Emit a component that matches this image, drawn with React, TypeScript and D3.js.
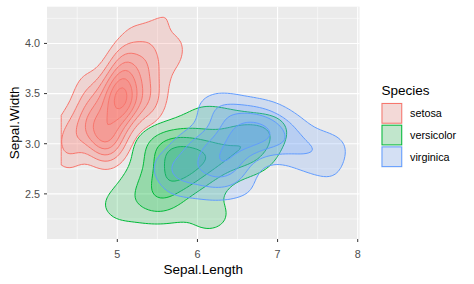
import React, { useMemo } from 'react';
import * as d3 from 'd3';

const species = ['setosa', 'versicolor', 'virginica'];
const speciesColors = ['#F8766D', '#00BA38', '#619CFF'];

const setosaLength = [5.1, 4.9, 4.7, 4.6, 5.0, 5.4, 4.6, 5.0, 4.4, 4.9, 5.4, 4.8, 4.8, 4.3, 5.8, 5.7, 5.4, 5.1, 5.7, 5.1, 5.4, 5.1, 4.6, 5.1, 4.8, 5.0, 5.0, 5.2, 5.2, 4.7, 4.8, 5.4, 5.2, 5.5, 4.9, 5.0, 5.5, 4.9, 4.4, 5.1, 5.0, 4.5, 4.4, 5.0, 5.1, 4.8, 5.1, 4.6, 5.3, 5.0];
const setosaWidth = [3.5, 3.0, 3.2, 3.1, 3.6, 3.9, 3.4, 3.4, 2.9, 3.1, 3.7, 3.4, 3.0, 3.0, 4.0, 4.4, 3.9, 3.5, 3.8, 3.8, 3.4, 3.7, 3.6, 3.3, 3.4, 3.0, 3.4, 3.5, 3.4, 3.2, 3.1, 3.4, 4.1, 4.2, 3.1, 3.2, 3.5, 3.6, 3.0, 3.4, 3.5, 2.3, 3.2, 3.5, 3.8, 3.0, 3.8, 3.2, 3.7, 3.3];
const versicolorLength = [7.0, 6.4, 6.9, 5.5, 6.5, 5.7, 6.3, 4.9, 6.6, 5.2, 5.0, 5.9, 6.0, 6.1, 5.6, 6.7, 5.6, 5.8, 6.2, 5.6, 5.9, 6.1, 6.3, 6.1, 6.4, 6.6, 6.8, 6.7, 6.0, 5.7, 5.5, 5.5, 5.8, 6.0, 5.4, 6.0, 6.7, 6.3, 5.6, 5.5, 5.5, 6.1, 5.8, 5.0, 5.6, 5.7, 5.7, 6.2, 5.1, 5.7];
const versicolorWidth = [3.2, 3.2, 3.1, 2.3, 2.8, 2.8, 3.3, 2.4, 2.9, 2.7, 2.0, 3.0, 2.2, 2.9, 2.9, 3.1, 3.0, 2.7, 2.2, 2.5, 3.2, 2.8, 2.5, 2.8, 2.9, 3.0, 2.8, 3.0, 2.9, 2.6, 2.4, 2.4, 2.7, 2.7, 3.0, 3.4, 3.1, 2.3, 3.0, 2.5, 2.6, 3.0, 2.6, 2.3, 2.7, 3.0, 2.9, 2.9, 2.5, 2.8];
const virginicaLength = [6.3, 5.8, 7.1, 6.3, 6.5, 7.6, 4.9, 7.3, 6.7, 7.2, 6.5, 6.4, 6.8, 5.7, 5.8, 6.4, 6.5, 7.7, 7.7, 6.0, 6.9, 5.6, 7.7, 6.3, 6.7, 7.2, 6.2, 6.1, 6.4, 7.2, 7.4, 7.9, 6.4, 6.3, 6.1, 7.7, 6.3, 6.4, 6.0, 6.9, 6.7, 6.9, 5.8, 6.8, 6.7, 6.7, 6.3, 6.5, 6.2, 5.9];
const virginicaWidth = [3.3, 2.7, 3.0, 2.9, 3.0, 3.0, 2.5, 2.9, 2.5, 3.6, 3.2, 2.7, 3.0, 2.5, 2.8, 3.2, 3.0, 3.8, 2.6, 2.2, 3.2, 2.8, 2.8, 2.7, 3.3, 3.2, 2.8, 3.0, 2.8, 3.0, 2.8, 3.8, 2.8, 2.8, 2.6, 3.0, 3.4, 3.1, 3.0, 3.1, 3.1, 3.1, 2.7, 3.2, 3.3, 3.0, 2.5, 3.0, 3.4, 3.0];

const xTicks = [5, 6, 7, 8];
const yTicks = [2.5, 3.0, 3.5, 4.0];
const xMinor = [4.5, 5.5, 6.5, 7.5];
const yMinor = [2.25, 2.75, 3.25, 3.75, 4.25];

const W = 474, H = 284;
const panel = { left: 47, right: 359.5, top: 6.7, bottom: 239 };
const GRID_N = 100;
const FONT = '"Liberation Sans", Arial, sans-serif';

function bwNrd(v: number[]) {
  const s = [...v].sort((a, b) => a - b);
  const q1 = d3.quantileSorted(s, 0.25)!;
  const q3 = d3.quantileSorted(s, 0.75)!;
  const h = (q3 - q1) / 1.34;
  return 4 * 1.06 * Math.min(d3.deviation(v)!, h) * Math.pow(v.length, -0.2);
}

function rPretty(lo: number, hi: number, n = 10) {
  const h = 1.5, h5 = 0.5 + 1.5 * h;
  const cell = (hi - lo) / n;
  const U = Math.pow(10, Math.floor(Math.log10(cell)));
  let unit = U;
  if (2 * U - cell < h * (cell - unit)) {
    unit = 2 * U;
    if (5 * U - cell < h5 * (cell - unit)) {
      unit = 5 * U;
      if (10 * U - cell < h * (cell - unit)) unit = 10 * U;
    }
  }
  const ns = Math.floor(lo / unit + 1e-7), nu = Math.ceil(hi / unit - 1e-7);
  const out: number[] = [];
  for (let k = ns; k <= nu; k++) out.push(k * unit);
  return out;
}

const phi = (u: number) => Math.exp(-0.5 * u * u) / Math.sqrt(2 * Math.PI);

export default function App() {
  const groups = [
    [setosaLength, setosaWidth],
    [versicolorLength, versicolorWidth],
    [virginicaLength, virginicaWidth],
  ];

  const result = useMemo(() => {
    const allX = groups.flatMap(g => g[0]);
    const allY = groups.flatMap(g => g[1]);
    const xlo = d3.min(allX)!, xhi = d3.max(allX)!;
    const ylo = d3.min(allY)!, yhi = d3.max(allY)!;
    const gx = d3.range(GRID_N).map(i => xlo + (i * (xhi - xlo)) / (GRID_N - 1));
    const gy = d3.range(GRID_N).map(j => ylo + (j * (yhi - ylo)) / (GRID_N - 1));

    const zs = groups.map(([xs, ys]) => {
      const hx = bwNrd(xs) / 4, hy = bwNrd(ys) / 4;
      const m = xs.length;
      const ax = gx.map(g => xs.map(x => phi((g - x) / hx)));
      const ay = gy.map(g => ys.map(y => phi((g - y) / hy)));
      const z = new Array(GRID_N * GRID_N);
      for (let j = 0; j < GRID_N; j++) {
        for (let i = 0; i < GRID_N; i++) {
          let s = 0;
          for (let k = 0; k < m; k++) s += ax[i][k] * ay[j][k];
          z[j * GRID_N + i] = s / (m * hx * hy);
        }
      }
      return z as number[];
    });

    const zmin = d3.min(zs.map(z => d3.min(z)!))!;
    const zmax = d3.max(zs.map(z => d3.max(z)!))!;
    const breaks = rPretty(zmin, zmax, 10);

    const toX = (c: number) => xlo + Math.min(Math.max(c - 0.5, 0), GRID_N - 1) * (xhi - xlo) / (GRID_N - 1);
    const toY = (c: number) => ylo + Math.min(Math.max(c - 0.5, 0), GRID_N - 1) * (yhi - ylo) / (GRID_N - 1);

    const contours = zs.map(z => {
      const gmax = d3.max(z)!;
      const levels = breaks.filter(b => b > 0 && b < gmax);
      return d3.contours().size([GRID_N, GRID_N]).thresholds(levels)(z)
        .filter(c => c.coordinates.length > 0);
    });

    let cx0 = Infinity, cx1 = -Infinity, cy0 = Infinity, cy1 = -Infinity;
    contours.forEach(cs => cs.forEach(c => c.coordinates.forEach(poly => poly.forEach(ring => ring.forEach(([px, py]) => {
      const X = toX(px), Y = toY(py);
      if (X < cx0) cx0 = X; if (X > cx1) cx1 = X;
      if (Y < cy0) cy0 = Y; if (Y > cy1) cy1 = Y;
    })))));
    const ex = (cx1 - cx0) * 0.05, ey = (cy1 - cy0) * 0.05;
    return { contours, toX, toY, xDomain: [cx0 - ex, cx1 + ex], yDomain: [cy0 - ey, cy1 + ey] };
  }, []);

  const x = d3.scaleLinear().domain(result.xDomain).range([panel.left, panel.right]);
  const y = d3.scaleLinear().domain(result.yDomain).range([panel.bottom, panel.top]);

  const path = d3.geoPath(d3.geoTransform({
    point(px: number, py: number) {
      (this as any).stream.point(x(result.toX(px)), y(result.toY(py)));
    },
  }));

  const legendX = 381, legendKeyTop = 102.5, keySize = 21.7;

  return (
    <svg width={W} height={H} style={{ position: 'absolute', left: 0, top: 0, background: '#fff' }}
      fontFamily={FONT}>
      <defs>
        <clipPath id="panelClip">
          <rect x={panel.left} y={panel.top} width={panel.right - panel.left} height={panel.bottom - panel.top} />
        </clipPath>
      </defs>
      <rect x={panel.left} y={panel.top} width={panel.right - panel.left} height={panel.bottom - panel.top} fill="#EBEBEB" />
      {xMinor.map(v => (
        <line key={'xm' + v} x1={x(v)} x2={x(v)} y1={panel.top} y2={panel.bottom} stroke="#fff" strokeWidth={0.55} />
      ))}
      {yMinor.map(v => (
        <line key={'ym' + v} y1={y(v)} y2={y(v)} x1={panel.left} x2={panel.right} stroke="#fff" strokeWidth={0.55} />
      ))}
      {xTicks.map(v => (
        <line key={'xg' + v} x1={x(v)} x2={x(v)} y1={panel.top} y2={panel.bottom} stroke="#fff" strokeWidth={1.1} />
      ))}
      {yTicks.map(v => (
        <line key={'yg' + v} y1={y(v)} y2={y(v)} x1={panel.left} x2={panel.right} stroke="#fff" strokeWidth={1.1} />
      ))}
      <g clipPath="url(#panelClip)">
        {result.contours.map((cs, gi) => (
          <g key={species[gi]}>
            {cs.map((c, ci) => (
              <path key={ci} d={path(c as any) || ''} fill={speciesColors[gi]} fillOpacity={0.2}
                stroke={speciesColors[gi]} strokeWidth={1} strokeLinejoin="round" />
            ))}
          </g>
        ))}
      </g>
      {xTicks.map(v => (
        <g key={'xt' + v}>
          <line x1={x(v)} x2={x(v)} y1={panel.bottom} y2={panel.bottom + 3} stroke="#333" strokeWidth={1} />
          <text x={x(v)} y={258.3} textAnchor="middle" fontSize={10.8} fill="#4D4D4D">{String(v)}</text>
        </g>
      ))}
      {yTicks.map(v => (
        <g key={'yt' + v}>
          <line x1={panel.left - 3} x2={panel.left} y1={y(v)} y2={y(v)} stroke="#333" strokeWidth={1} />
          <text x={40} y={y(v)} dy="0.36em" textAnchor="end" fontSize={10.8} fill="#4D4D4D">{v.toFixed(1)}</text>
        </g>
      ))}
      <text x={(panel.left + panel.right) / 2} y={274} textAnchor="middle" fontSize={13.5} fill="#000">Sepal.Length</text>
      <text transform={`translate(19,${(panel.top + panel.bottom) / 2}) rotate(-90)`} textAnchor="middle" fontSize={13.5} fill="#000">Sepal.Width</text>
      <text x={legendX + 0.5} y={94.5} fontSize={13.5} fill="#000">Species</text>
      {species.map((s, i) => (
        <g key={'lg' + s}>
          <rect x={legendX} y={legendKeyTop + i * keySize} width={keySize} height={keySize} fill="#F2F2F2" />
          <rect x={legendX + 1} y={legendKeyTop + i * keySize + 1} width={keySize - 2} height={keySize - 2}
            fill={speciesColors[i]} fillOpacity={0.2} stroke={speciesColors[i]} strokeWidth={1} />
          <text x={410} y={legendKeyTop + i * keySize + keySize / 2} dy="0.36em" fontSize={10.8} fill="#000">{s}</text>
        </g>
      ))}
    </svg>
  );
}
